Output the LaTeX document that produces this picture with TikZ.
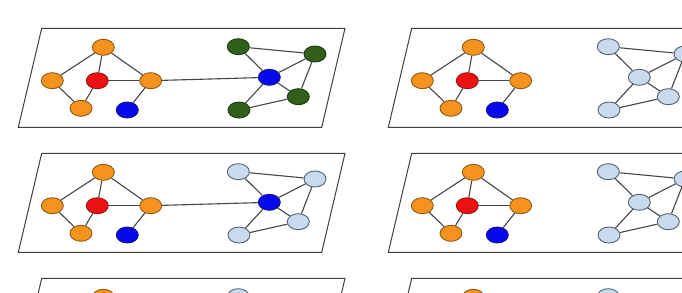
\documentclass[tikz,border=0pt]{standalone}
\usetikzlibrary{shapes.geometric}
\definecolor{orF}{RGB}{246,146,30}
\definecolor{orD}{RGB}{140,90,20}
\definecolor{rdF}{RGB}{236,18,18}
\definecolor{rdD}{RGB}{150,20,20}
\definecolor{blF}{RGB}{8,8,236}
\definecolor{blD}{RGB}{20,20,140}
\definecolor{grF}{RGB}{48,96,26}
\definecolor{grD}{RGB}{28,55,18}
\definecolor{lbF}{RGB}{200,218,238}
\definecolor{lbD}{RGB}{85,98,112}
\definecolor{edgeC}{RGB}{70,70,70}
\tikzset{
  vtx/.style={ellipse, inner sep=0pt, minimum width=22pt, minimum height=16pt, line width=0.9pt},
  og/.style={vtx, fill=orF, draw=orD},
  rd/.style={vtx, fill=rdF, draw=rdD},
  bl/.style={vtx, fill=blF, draw=blD},
  gr/.style={vtx, fill=grF, draw=grD},
  lb/.style={vtx, fill=lbF, draw=lbD},
  edge/.style={draw=edgeC, line width=1.1pt},
  frame/.style={draw=black!75, line width=1pt}
}
\newcommand\drawpanel[6]{%
\begin{scope}[shift={(#2,#3)}]
 \draw[frame] (41.7,28.3) -- (345,28.3) -- (321.7,127.3) -- (18.3,127.3) -- cycle;
 \node[og] (#1ot) at (103.3,47.3) {};
 \node[og] (#1ol) at (52.3,80.7) {};
 \node[rd] (#1r) at (97.3,80.7) {};
 \node[og] (#1or) at (150.7,80.7) {};
 \node[og] (#1ob) at (81,108.3) {};
 \node[bl] (#1b) at (127.3,110) {};
 \node[#4] (#1tl) at (238.3,46.7) {};
 \node[#4] (#1tr) at (315,54) {};
 \node[#5] (#1c) at (269.3,77.3) {};
 \node[#4] (#1rm) at (298.3,96.7) {};
 \node[#4] (#1bl) at (239,110) {};
 \draw[edge] (#1ot) -- (#1ol);
 \draw[edge] (#1ot) -- (#1r);
 \draw[edge] (#1ot) -- (#1or);
 \draw[edge] (#1ol) -- (#1ob);
 \draw[edge] (#1ob) -- (#1r);
 \draw[edge] (#1r) -- (#1or);
 \draw[edge] (#1or) -- (#1b);
 \draw[edge] (#1tl) -- (#1tr);
 \draw[edge] (#1tl) -- (#1c);
 \draw[edge] (#1c) -- (#1tr);
 \draw[edge] (#1tr) -- (#1rm);
 \draw[edge] (#1c) -- (#1rm);
 \draw[edge] (#1c) -- (#1bl);
 \draw[edge] (#1bl) -- (#1rm);
 \ifnum#6=1 \draw[edge] (#1or) -- (#1c);\fi
\end{scope}}
\begin{document}
\begin{tikzpicture}[x=1pt,y=-1pt]
\useasboundingbox (0,0) rectangle (682,292);
\clip (0,0) rectangle (682,292);
\fill[white] (0,0) rectangle (682,292);
\drawpanel{a}{0}{0}{gr}{bl}{1}
\drawpanel{b}{370}{0}{lb}{lb}{0}
\drawpanel{c}{0}{125}{lb}{bl}{1}
\drawpanel{d}{370}{125}{lb}{lb}{0}
\drawpanel{e}{0}{250}{lb}{lb}{0}
\drawpanel{f}{370}{250}{lb}{lb}{0}
\end{tikzpicture}
\end{document}
